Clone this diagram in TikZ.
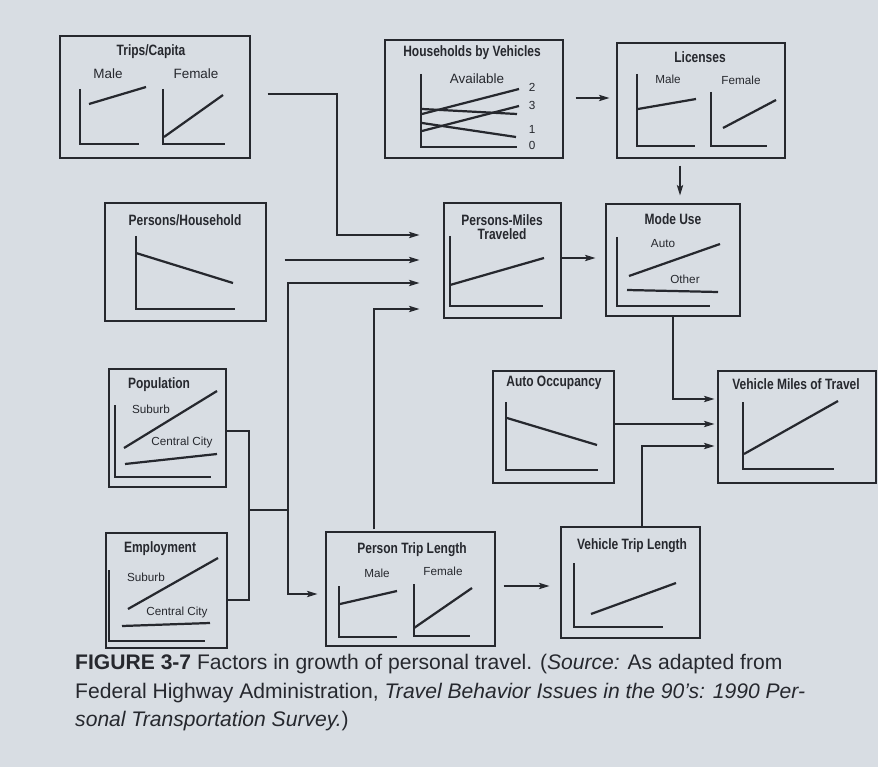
\documentclass[tikz,border=0pt]{standalone}
\usepackage{fontspec}
\setmainfont{Liberation Sans}
\newfontfamily\condfont[FakeStretch=0.8]{Liberation Sans}
\usetikzlibrary{arrows.meta,calc,fit}
\definecolor{paper}{RGB}{216,221,227}
\definecolor{ink}{RGB}{38,40,46}
\tikzset{
  box/.style={draw=ink,line width=1pt,inner sep=0pt},
  ax/.style={draw=ink,line width=1pt},
  dat/.style={draw=ink,line width=1.9pt},
  conn/.style={draw=ink,line width=1pt},
  arr/.style={conn,-{Stealth[length=9pt,width=5.5pt,inset=2pt]}},
  ttl/.style={text=ink,font=\condfont\bfseries\fontsize{12.8}{13.5}\selectfont,inner sep=0pt},
  lbl/.style={text=ink,font=\fontsize{10}{11}\selectfont,inner sep=0pt},
  lblb/.style={text=ink,font=\fontsize{11.5}{12}\selectfont,inner sep=0pt},
  captxt/.style={text=ink,font=\fontsize{18}{20}\selectfont,inner sep=0pt,anchor=west},
}
\begin{document}
\begin{tikzpicture}[x=0.03cm,y=-0.03cm]
\fill[paper] (0,0) rectangle (878,767);
\useasboundingbox (0,0) rectangle (878,767);
% boxes
\node[box,fit={(60,36) (250,158)}] (tc) {};
\node[box,fit={(385,40) (563,158)}] (hv) {};
\node[box,fit={(617,43) (785,158)}] (lic) {};
\node[box,fit={(105,203) (266,321)}] (ph) {};
\node[box,fit={(444,203) (561,318)}] (pm) {};
\node[box,fit={(606,204) (740,316)}] (mu) {};
\node[box,fit={(109,369) (226,487)}] (pop) {};
\node[box,fit={(493,371) (614,483)}] (ao) {};
\node[box,fit={(718,371) (876,483)}] (vm) {};
\node[box,fit={(106,533) (227,648)}] (emp) {};
\node[box,fit={(326,532) (495,646)}] (ptl) {};
\node[box,fit={(561,527) (700,638)}] (vtl) {};
% Trips/Capita
\node[ttl] (tct) at (151,52) {Trips/Capita};
\node[lblb] (tcm) at (108,74) {Male};
\node[lblb] (tcf) at (196,74) {Female};
\draw[ax] (80,89) -- (80,144) -- (139,144);
\draw[dat] (89,104) -- (146,87);
\draw[ax] (163,89) -- (163,144) -- (225,144);
\draw[dat] (164,137) -- (223,95);
% Households by Vehicles
\node[ttl] (hvt) at (472,53) {Households by Vehicles};
\node[lblb] (hva) at (477,79) {Available};
\draw[ax] (421,74) -- (421,147) -- (517,147);
\draw[dat] (422,114) -- (519,89);
\draw[dat] (422,131) -- (519,106);
\draw[dat] (422,109) -- (517,114);
\draw[dat] (422,123) -- (516,137);
\node[lbl] at (532,87) {2};
\node[lbl] at (532,105) {3};
\node[lbl] at (532,129) {1};
\node[lbl] at (532,145) {0};
% Licenses
\node[ttl] at (700,57) {Licenses};
\node[lbl] at (668,79) {Male};
\node[lbl] at (741,80) {Female};
\draw[ax] (637,74) -- (637,146) -- (695,146);
\draw[dat] (638,109) -- (696,99);
\draw[ax] (711,92) -- (711,146) -- (767,146);
\draw[dat] (723,128) -- (776,100);
% Persons/Household
\node[ttl] at (185,220) {Persons/Household};
\draw[ax] (136,236) -- (136,309) -- (235,309);
\draw[dat] (136,253) -- (233,283);
% Persons-Miles
\node[ttl,align=center] at (502,227) {Persons-Miles\\[-1pt]Traveled};
\draw[ax] (450,236) -- (450,306) -- (543,306);
\draw[dat] (450,285) -- (544,258);
% Mode Use
\node[ttl] at (673,219) {Mode Use};
\node[lbl] at (663,244) {Auto};
\node[lbl] at (685,279) {Other};
\draw[ax] (617,237) -- (617,306) -- (710,306);
\draw[dat] (629,276) -- (720,244);
\draw[dat] (627,290) -- (718,292);
% Population
\node[ttl] at (159,385) {Population};
\node[lbl] at (151,409) {Suburb};
\node[lbl] at (182,442) {Central City};
\draw[ax] (115,405) -- (115,477) -- (211,477);
\draw[dat] (124,448) -- (217,391);
\draw[dat] (125,464) -- (217,454);
% Employment
\node[ttl] at (160,549) {Employment};
\node[lbl] at (146,577) {Suburb};
\node[lbl] at (177,612) {Central City};
\draw[ax] (109,570) -- (109,641) -- (205,641);
\draw[dat] (128,609) -- (218,558);
\draw[dat] (122,626) -- (210,623);
% Auto Occupancy
\node[ttl] at (554,383) {Auto Occupancy};
\draw[ax] (506,402) -- (506,470) -- (598,470);
\draw[dat] (507,418) -- (597,445);
% Vehicle Miles of Travel
\node[ttl] at (796,384) {Vehicle Miles of Travel};
\draw[ax] (743,402) -- (743,469) -- (834,469);
\draw[dat] (744,454) -- (838,401);
% Person Trip Length
\node[ttl] at (412,550) {Person Trip Length};
\node[lbl] at (377,573) {Male};
\node[lbl] at (443,571) {Female};
\draw[ax] (339,586) -- (339,637) -- (397,637);
\draw[dat] (340,604) -- (397,591);
\draw[ax] (414,584) -- (414,636) -- (470,636);
\draw[dat] (414,628) -- (472,588);
% Vehicle Trip Length
\node[ttl] at (632,546) {Vehicle Trip Length};
\draw[ax] (574,563) -- (574,627) -- (663,627);
\draw[dat] (591,614) -- (676,583);
% connectors
\draw[arr] ($(tc.east|-0,94)+(17,0)$) -| (337,235) -- ($(pm.west|-0,235)+(-24,0)$);
\draw[arr] ($(ph.east|-0,260)+(18,0)$) -- ($(pm.west|-0,260)+(-24,0)$);
\draw[conn] (pop.east|-0,431) -| (249,510) |- (emp.east|-0,600);
\draw[arr] (249,510) -| (288,283) -- ($(pm.west|-0,283)+(-24,0)$);
\draw[arr] (288,510) |- ($(ptl.west|-0,594)+(-8,0)$);
\draw[arr] ($(ptl.north-|374,0)+(0,-2)$) -- (374,309) -- ($(pm.west|-0,309)+(-24,0)$);
\draw[arr] (pm.east|-0,258) -- ($(mu.west|-0,258)+(-10,0)$);
\draw[arr] ($(hv.east|-0,98)+(12,0)$) -- ($(lic.west|-0,98)+(-7,0)$);
\draw[arr] ($(lic.south-|680,0)+(0,7)$) -- ($(mu.north-|680,0)+(0,-8)$);
\draw[arr] (mu.south-|673,0) |- ($(vm.west|-0,399)+(-3,0)$);
\draw[arr] (ao.east|-0,424) -- ($(vm.west|-0,424)+(-3,0)$);
\draw[arr] (vtl.north-|642,0) |- ($(vm.west|-0,446)+(-3,0)$);
\draw[arr] ($(ptl.east|-0,586)+(8,0)$) -- ($(vtl.west|-0,586)+(-11,0)$);
% caption
\node[captxt] (c1) at (75,664) {\textbf{FIGURE 3-7} Factors in growth of personal travel. (\textit{Source:} As adapted from};
\node[captxt] (c2) at (75,693) {Federal Highway Administration, \textit{Travel Behavior Issues in the 90's: 1990 Per-}};
\node[captxt] (c3) at (75,721) {\textit{sonal Transportation Survey.})};
\end{tikzpicture}
\end{document}
